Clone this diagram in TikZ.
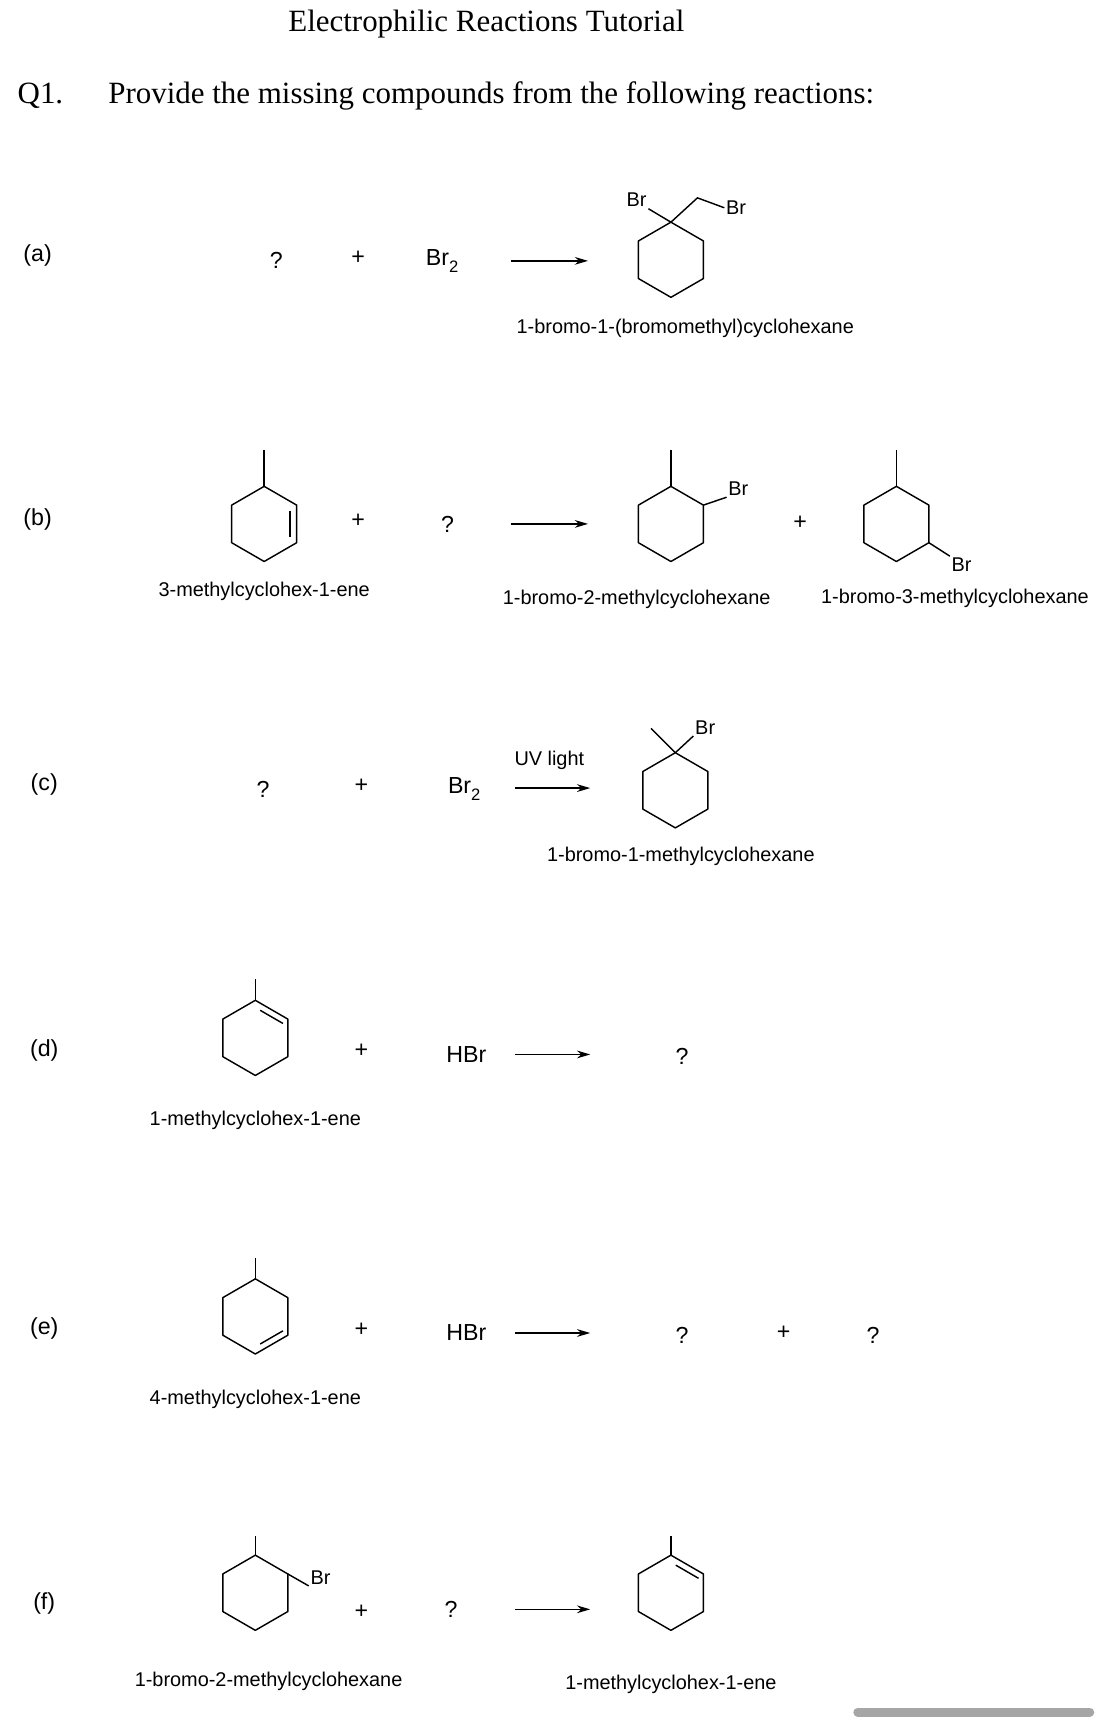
\documentclass[tikz,border=0pt]{standalone}
\usepackage{fontspec}
\setmainfont{Liberation Serif}
\newfontfamily\arialf{Liberation Sans}
\usetikzlibrary{arrows.meta,calc}
\begin{document}
\begin{tikzpicture}[x=1pt,y=-1pt,line width=1.3pt,
  lbl/.style={font=\arialf\fontsize{18}{21}\selectfont,inner sep=1pt},
  big/.style={font=\arialf\fontsize{21}{24}\selectfont,inner sep=1pt},
  rx/.style={-{Stealth[length=12pt,width=7pt]},line width=1.2pt},
  bond/.style={line width=1.3pt}]
\useasboundingbox (0,0) rectangle (992,1567);
\newcommand{\hexring}[3]{%
 \coordinate (#3t) at (#1,#2-34); \coordinate (#3ur) at (#1+29.4,#2-17);
 \coordinate (#3lr) at (#1+29.4,#2+17); \coordinate (#3b) at (#1,#2+34);
 \coordinate (#3ll) at (#1-29.4,#2+17); \coordinate (#3ul) at (#1-29.4,#2-17);
 \draw[bond,line join=round] (#3t)--(#3ur)--(#3lr)--(#3b)--(#3ll)--(#3ul)--cycle;}
\newcommand{\brtwo}{Br\raisebox{-0.3em}{\fontsize{15}{16}\selectfont 2}}
\node[font=\fontsize{28}{32}\selectfont] (title) at (440,22) {Electrophilic Reactions Tutorial};
\node[font=\fontsize{28}{32}\selectfont,anchor=west] (q1) at (12,87) {Q1.};
\node[font=\fontsize{28}{32}\selectfont,anchor=west] (q1t) at (94,87) {Provide the missing compounds from the following reactions:};
% (a)
\node[big] (la) at (34,231) {(a)};
\node[big] (a1) at (250,236) {?};
\node[big] (ap) at (324,233) {+};
\node[big] (ab) at (400,236) {\brtwo};
\coordinate (aa1) at (462,236); \coordinate (aa2) at (532,236);
\draw[rx] (aa1)--(aa2);
\hexring{607}{235}{A}
\node[lbl] (abr1) at (576,181) {Br};
\node[lbl] (abr2) at (666,188) {Br};
\coordinate (ach) at (631,179);
\draw[bond] (At)--(abr1.south east) (At)--(ach)--(abr2.west);
\node[lbl] (an) at (620,297) {1-bromo-1-(bromomethyl)cyclohexane};
% (b)
\node[big] (lb) at (34,470) {(b)};
\hexring{239}{474}{B}
\coordinate (bm) at (239,407); \draw[bond] (Bt)--(bm);
\draw[bond] ($(Bur)!0.15!(Blr)+(-6,0)$)--($(Blr)!0.15!(Bur)+(-6,0)$);
\node[big] (bp) at (324,471) {+};
\node[lbl] (bn1) at (239,535) {3-methylcyclohex-1-ene};
\node[big] (bq) at (405,474) {?};
\coordinate (ba1) at (462,474); \coordinate (ba2) at (532,474);
\draw[rx] (ba1)--(ba2);
\hexring{607}{474}{C}
\coordinate (cm) at (607,407); \draw[bond] (Ct)--(cm);
\node[lbl] (cbr) at (668,442) {Br};
\draw[bond] (Cur)--(cbr.south west);
\node[lbl] (bn2) at (576,542) {1-bromo-2-methylcyclohexane};
\node[big] (bp2) at (724,473) {+};
\hexring{811}{474}{D}
\coordinate (dm) at (811,407); \draw[bond] (Dt)--(dm);
\node[lbl] (dbr) at (870,511) {Br};
\draw[bond] (Dlr)--(dbr.north west);
\node[lbl] (bn3) at (864,541) {1-bromo-3-methylcyclohexane};
% (c)
\node[big] (lc) at (40,710) {(c)};
\node[big] (c1) at (238,714) {?};
\node[big] (cp) at (327,711) {+};
\node[big] (cb) at (420,714) {\brtwo};
\node[lbl] (uv) at (497,688) {UV light};
\coordinate (ca1) at (466,713); \coordinate (ca2) at (534,713);
\draw[rx] (ca1)--(ca2);
\hexring{611}{715}{E}
\coordinate (em) at (589,659); \draw[bond] (Et)--(em);
\node[lbl] (ebr) at (638,658) {Br};
\draw[bond] (Et)--(ebr.south west);
\node[lbl] (cn) at (616,775) {1-bromo-1-methylcyclohexane};
% (d)
\node[big] (ld) at (40,950) {(d)};
\hexring{231}{939}{F}
\coordinate (fm) at (231,886); \draw[bond] (Ft)--(fm);
\draw[bond] ($(Ft)!0.15!(Fur)+(0,6.5)$)--($(Fur)!0.15!(Ft)+(0,6.5)$);
\node[big] (dp) at (327,951) {+};
\node[lbl] (dn) at (231,1014) {1-methylcyclohex-1-ene};
\node[big] (dh) at (422,954) {HBr};
\coordinate (da1) at (466,954); \coordinate (da2) at (534,954);
\draw[rx] (da1)--(da2);
\node[big] (dq) at (617,956) {?};
% (e)
\node[big] (le) at (40,1202) {(e)};
\hexring{231}{1191}{G}
\coordinate (gm) at (231,1138); \draw[bond] (Gt)--(gm);
\draw[bond] ($(Glr)!0.15!(Gb)+(0,-6.5)$)--($(Gb)!0.15!(Glr)+(0,-6.5)$);
\node[big] (ep) at (327,1203) {+};
\node[lbl] (en) at (231,1266) {4-methylcyclohex-1-ene};
\node[big] (eh) at (422,1206) {HBr};
\coordinate (ea1) at (466,1206); \coordinate (ea2) at (534,1206);
\draw[rx] (ea1)--(ea2);
\node[big] (eq1) at (617,1208) {?};
\node[big] (ep2) at (709,1206) {+};
\node[big] (eq2) at (790,1208) {?};
% (f)
\node[big] (lf) at (40,1451) {(f)};
\hexring{231}{1441}{H}
\coordinate (hm) at (231,1390); \draw[bond] (Ht)--(hm);
\node[lbl] (hbr) at (290,1427) {Br};
\draw[bond] (Hur)--(hbr.south west);
\node[big] (fp) at (327,1458) {+};
\node[lbl] (fn) at (243,1521) {1-bromo-2-methylcyclohexane};
\node[big] (fq) at (408,1456) {?};
\coordinate (fa1) at (466,1456); \coordinate (fa2) at (534,1456);
\draw[rx] (fa1)--(fa2);
\hexring{607}{1441}{K}
\coordinate (km) at (607,1390); \draw[bond] (Kt)--(km);
\draw[bond] ($(Kt)!0.15!(Kur)+(0,6.5)$)--($(Kur)!0.15!(Kt)+(0,6.5)$);
\node[lbl] (fn2) at (607,1524) {1-methylcyclohex-1-ene};
% scrollbar
\draw[line width=8pt,line cap=round,gray!70] (776,1549) -- (986,1549);
\end{tikzpicture}
\end{document}
